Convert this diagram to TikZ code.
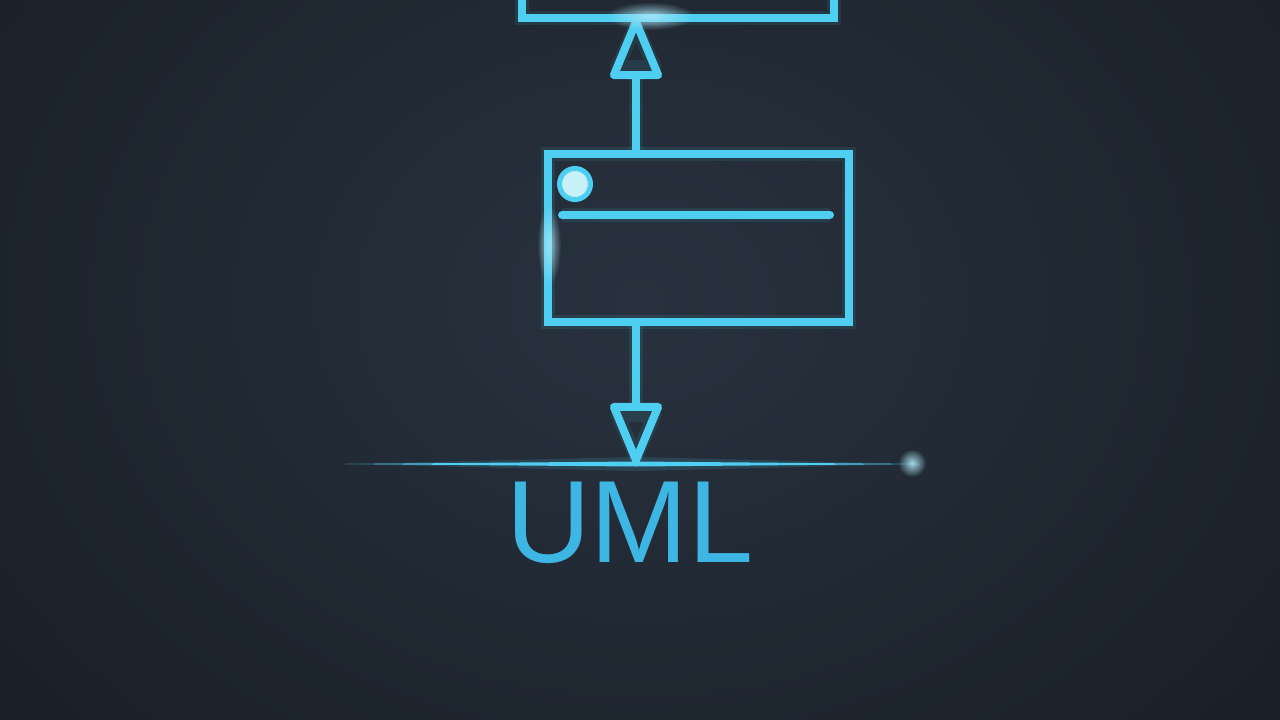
\documentclass[tikz,border=0pt]{standalone}
\usepackage{fontspec}
\setmainfont{Liberation Sans}
\usetikzlibrary{arrows.meta,fadings,positioning}

\definecolor{bgin}{RGB}{40,50,62}
\definecolor{bgout}{RGB}{19,24,32}
\definecolor{umlcyan}{RGB}{78,206,240}
\definecolor{umlpale}{RGB}{200,240,248}
\definecolor{umltext}{RGB}{62,182,228}

\tikzfading[name=spotfade, inner color=transparent!0, outer color=transparent!100]

\tikzset{
  glow/.style={preaction={draw=umlcyan, line width=14pt, opacity=0.10}},
  classbox/.style={draw=umlcyan, line width=8pt, rectangle, inner sep=0pt, outer sep=0pt, glow},
  conn/.style={draw=umlcyan, line width=8pt, line join=round, glow,
    -{Triangle[open, length=68pt, width=54pt, round]}},
  spot/.style={fill=umlcyan!45!white, path fading=spotfade},
}

\begin{document}
\begin{tikzpicture}[x=1pt,y=-1pt]
\useasboundingbox (0,0) rectangle (1280,720);
\clip (0,0) rectangle (1280,720);
% background
\shade[inner color=bgin, outer color=bgout] (-500,-600) rectangle (1780,1200);

% class boxes
\node[classbox, minimum width=312pt, minimum height=160pt] (super) at (678,-62) {};
\node[classbox, minimum width=301pt, minimum height=168pt] (sub) at (698.5,238) {};
\node[circle, draw=umlcyan, fill=umlpale, line width=5pt, minimum size=31pt, inner sep=0pt] (dot) at (575,184) {};
\draw[umlcyan, line width=8pt, line cap=round, glow] (562,215) -- (830,215);

% base line
\coordinate (lineL) at (345,464);
\coordinate (lineR) at (920,464);
\coordinate (lineC) at (636,464);
\fill[umlcyan, opacity=0.15] (lineL) -- (636,457) -- (lineR) -- (636,471) -- cycle;
\fill[umlcyan] (lineL) -- (636,461.5) -- (lineR) -- (636,466.5) -- cycle;

% connectors
\draw[conn] (sub.north -| lineC) -- (super.south -| lineC);
\draw[conn] (sub.south -| lineC) -- (lineC);

% glow spots
\fill[spot, opacity=0.85] (650,16) ellipse (44pt and 14pt);
\fill[spot, opacity=0.75] (549,245) ellipse (12pt and 40pt);
\fill[spot, opacity=0.9] (912,463) circle (14pt);

% title
\node[anchor=base, inner sep=0pt, text=umltext, font=\fontsize{117}{117}\selectfont] (title) at (630,562) {UML};
\end{tikzpicture}
\end{document}
